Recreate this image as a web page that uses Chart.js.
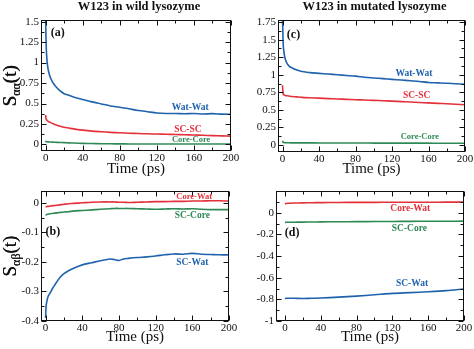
<!DOCTYPE html>
<html>
<head>
<meta charset="utf-8">
<script src="https://cdn.jsdelivr.net/npm/chart.js@4"></script>
<style>
  body { margin: 0; background: #fff; }
  #wrap { position: relative; width: 474px; height: 349px; }
  #wrap canvas { position: absolute; left: 0; top: 0; }
</style>
</head>
<body>
<div id="wrap">
  <canvas id="pa" width="474" height="349"></canvas>
  <canvas id="pb" width="474" height="349"></canvas>
  <canvas id="pc" width="474" height="349"></canvas>
  <canvas id="pd" width="474" height="349"></canvas>
</div>
<script>
// time grids (ps)
const timeTop = [0, 0.5, 1, 2, 3, 5, 7.5, 10, 15, 20, 25, 30, 40, 50, 60, 70, 80, 90, 100, 110, 120, 130, 140, 150, 160, 170, 180, 190, 200];
const timeB = [0, 0.5, 1, 2, 3, 5, 7.5, 10, 15, 20, 25, 30, 40, 50, 60, 70, 75, 80, 85, 90, 100, 110, 120, 130, 140, 150, 160, 170, 180, 190, 200];
const timeD = [0, 1, 5, 10, 20, 30, 40, 60, 80, 100, 120, 140, 160, 180, 200];

// (a) wild, S_aa
const watWatA = [1.52, 1.25, 1.1, 0.97, 0.9, 0.82, 0.76, 0.72, 0.66, 0.62, 0.6, 0.58, 0.55, 0.52, 0.495, 0.47, 0.455, 0.435, 0.415, 0.4, 0.385, 0.378, 0.378, 0.375, 0.378, 0.372, 0.376, 0.37, 0.368];
const scScA = [0.36, 0.31, 0.3, 0.29, 0.28, 0.27, 0.255, 0.245, 0.225, 0.21, 0.2, 0.19, 0.175, 0.163, 0.155, 0.148, 0.142, 0.137, 0.133, 0.13, 0.127, 0.124, 0.121, 0.118, 0.115, 0.112, 0.108, 0.105, 0.102];
const coreCoreA = [0.045, 0.035, 0.033, 0.032, 0.031, 0.03, 0.028, 0.027, 0.024, 0.022, 0.019, 0.017, 0.013, 0.011, 0.009, 0.008, 0.007, 0.006, 0.006, 0.005, 0.005, 0.005, 0.005, 0.005, 0.005, 0.005, 0.005, 0.005, 0.005];

// (c) mutated, S_aa
const watWatC = [1.8, 1.5, 1.38, 1.28, 1.22, 1.16, 1.12, 1.1, 1.07, 1.05, 1.04, 1.03, 1.02, 1.01, 1.0, 0.99, 0.98, 0.965, 0.955, 0.945, 0.935, 0.925, 0.915, 0.905, 0.89, 0.885, 0.88, 0.872, 0.865];
const scScC = [0.85, 0.73, 0.72, 0.71, 0.705, 0.7, 0.695, 0.69, 0.685, 0.68, 0.675, 0.672, 0.667, 0.66, 0.655, 0.65, 0.645, 0.64, 0.635, 0.63, 0.625, 0.618, 0.612, 0.605, 0.6, 0.593, 0.587, 0.58, 0.572];
const coreCoreC = [0.06, 0.04, 0.035, 0.033, 0.032, 0.031, 0.031, 0.03, 0.03, 0.03, 0.03, 0.03, 0.029, 0.029, 0.029, 0.028, 0.028, 0.028, 0.027, 0.027, 0.027, 0.026, 0.026, 0.026, 0.026, 0.025, 0.025, 0.025, 0.025];

// (b) wild, S_ab
const coreWatB = [-0.013, -0.013, -0.013, -0.012, -0.012, -0.011, -0.01, -0.009, -0.007, -0.005, -0.003, -0.002, 0, 0.002, 0.003, 0.003, 0.003, 0.002, 0.002, 0.001, 0.002, 0.003, 0.004, 0.004, 0.005, 0.005, 0.006, 0.006, 0.007, 0.007, 0.006];
const scCoreB = [-0.042, -0.041, -0.04, -0.039, -0.038, -0.037, -0.036, -0.035, -0.033, -0.031, -0.03, -0.028, -0.026, -0.024, -0.022, -0.02, -0.019, -0.019, -0.019, -0.019, -0.02, -0.021, -0.022, -0.021, -0.02, -0.021, -0.02, -0.022, -0.023, -0.023, -0.023];
const scWatB = [-0.39, -0.35, -0.34, -0.325, -0.315, -0.305, -0.29, -0.278, -0.255, -0.24, -0.23, -0.222, -0.21, -0.203, -0.196, -0.19, -0.192, -0.195, -0.19, -0.188, -0.185, -0.183, -0.18, -0.176, -0.173, -0.174, -0.171, -0.174, -0.175, -0.176, -0.176];

// (d) mutated, S_ab
const coreWatD = [0.08, 0.085, 0.087, 0.089, 0.09, 0.092, 0.093, 0.094, 0.095, 0.095, 0.096, 0.096, 0.096, 0.097, 0.097];
const scCoreD = [-0.09, -0.089, -0.088, -0.088, -0.087, -0.086, -0.085, -0.084, -0.083, -0.082, -0.081, -0.08, -0.079, -0.079, -0.078];
const scWatD = [-0.795, -0.79, -0.79, -0.79, -0.792, -0.79, -0.788, -0.78, -0.77, -0.758, -0.745, -0.738, -0.73, -0.72, -0.705];

// tick labels
const xTicks = [0, 40, 80, 120, 160, 200];
const yTicksA = [0, 0.25, 0.5, 0.75, 1, 1.25, 1.5];
const yTicksC = [0, 0.25, 0.5, 0.75, 1, 1.25, 1.5, 1.75];
const yTicksB = [-0.4, -0.3, -0.2, -0.1, 0];
const yTicksD = [-1, -0.8, -0.6, -0.4, -0.2, 0];

const BLUE = '#1f63ad';
const RED = '#e3313b';
const GREEN = '#2e8a55';
const SERIF = '"Liberation Serif", "DejaVu Serif", serif';

function pts(times, vals) {
  return times.map((t, i) => ({ x: t, y: vals[i] }));
}

function line(times, vals, color) {
  return {
    data: pts(times, vals),
    borderColor: color,
    borderWidth: 1.6,
    pointRadius: 0,
    tension: 0.3,
    fill: false
  };
}

// frame, inward ticks, panel texts
const decor = {
  id: 'decor',
  afterDatasetsDraw(chart, args, opts) {
    const ctx = chart.ctx;
    const a = chart.chartArea;
    const xs = chart.scales.x, ys = chart.scales.y;
    ctx.save();
    ctx.strokeStyle = '#111';
    ctx.lineWidth = 1;
    const l = Math.round(a.left) + 0.5, r = Math.round(a.right) - 0.5;
    const t = Math.round(a.top) + 0.5, b = Math.round(a.bottom) - 0.5;
    ctx.strokeRect(l, t, r - l, b - t);
    ctx.beginPath();
    for (let v = 0; v <= 200; v += 20) {
      const px = Math.round(xs.getPixelForValue(v)) + 0.5;
      const len = v % 40 === 0 ? 5 : 3;
      ctx.moveTo(px, b); ctx.lineTo(px, b - len);
      ctx.moveTo(px, t); ctx.lineTo(px, t + len);
    }
    const yt = opts.yTicks;
    const step = yt[1] - yt[0];
    for (let i = 0; i < yt.length; i++) {
      const vals = [[yt[i], 5], [yt[i] + step / 2, 3]];
      vals.forEach(([v, len]) => {
        if (v > ys.max + 1e-9) return;
        const py = Math.round(ys.getPixelForValue(v)) + 0.5;
        ctx.moveTo(l, py); ctx.lineTo(l + len, py);
        ctx.moveTo(r, py); ctx.lineTo(r - len, py);
      });
    }
    ctx.stroke();

    // series labels
    ctx.textAlign = 'center';
    ctx.textBaseline = 'middle';
    opts.labels.forEach(lb => {
      ctx.font = 'bold ' + lb.size + 'px ' + SERIF;
      ctx.fillStyle = lb.color;
      ctx.fillText(lb.text, xs.getPixelForValue(lb.t), ys.getPixelForValue(lb.v));
    });

    // panel title
    if (opts.title) {
      ctx.font = 'bold 12.5px ' + SERIF;
      ctx.fillStyle = '#111';
      ctx.fillText(opts.title, (a.left + a.right) / 2 + 3, 7);
    }

    // y axis title S_xx(t)
    ctx.translate(16, (a.top + a.bottom) / 2);
    ctx.rotate(-Math.PI / 2);
    ctx.textAlign = 'left';
    ctx.textBaseline = 'alphabetic';
    ctx.fillStyle = '#111';
    ctx.font = '19px ' + SERIF;
    const wS = ctx.measureText('S').width;
    ctx.font = '12px ' + SERIF;
    const wSub = ctx.measureText(opts.sub).width;
    ctx.font = '19px ' + SERIF;
    const wT = ctx.measureText('(t)').width;
    let x0 = -(wS + wSub + wT) / 2;
    ctx.fillText('S', x0, 0);
    ctx.font = '12px ' + SERIF;
    ctx.fillText(opts.sub, x0 + wS, 4);
    ctx.font = '19px ' + SERIF;
    ctx.fillText('(t)', x0 + wS + wSub, 0);
    ctx.restore();
  }
};

function makePanel(id, p) {
  const YW = 34, XH = p.xh;
  return new Chart(document.getElementById(id), {
    type: 'line',
    data: { datasets: p.datasets },
    options: {
      responsive: false,
      animation: false,
      events: [],
      layout: {
        padding: { left: p.L - YW, right: 474 - p.R, top: p.T, bottom: 349 - p.B - XH }
      },
      plugins: {
        legend: { display: false },
        tooltip: { enabled: false },
        decor: { yTicks: p.yTicks, labels: p.labels, title: p.title, sub: p.sub }
      },
      scales: {
        x: {
          type: 'linear',
          min: p.xmin, max: 200,
          grid: { display: false, drawTicks: false },
          border: { display: false },
          afterBuildTicks: s => { s.ticks = xTicks.map(v => ({ value: v })); },
          afterFit: s => { s.height = XH; s.paddingLeft = 0; s.paddingRight = 0; },
          ticks: { autoSkip: false, maxRotation: 0, padding: 1, color: '#111', font: { family: SERIF, size: 11 }, callback: v => String(v) },
          title: { display: true, text: 'Time (ps)', color: '#111', font: { family: SERIF, size: 15 }, padding: { top: 0, bottom: p.tpad } }
        },
        y: {
          min: p.ymin, max: p.ymax,
          grid: { display: false, drawTicks: false },
          border: { display: false },
          afterBuildTicks: s => { s.ticks = p.yTicks.map(v => ({ value: v })); },
          afterFit: s => { s.width = YW; s.paddingTop = 0; s.paddingBottom = 0; },
          ticks: { autoSkip: false, padding: 2, color: '#111', font: { family: SERIF, size: 11 }, callback: v => String(v) }
        }
      }
    },
    plugins: [decor]
  });
}

makePanel('pa', {
  L: 41, R: 231, T: 20, B: 151, xh: 30, tpad: 3,
  xmin: -5, ymin: -0.08, ymax: 1.52, yTicks: yTicksA, sub: 'αα',
  title: 'W123 in wild lysozyme',
  datasets: [line(timeTop, watWatA, BLUE), line(timeTop, scScA, RED), line(timeTop, coreCoreA, GREEN)],
  labels: [
    { text: '(a)', t: 13, v: 1.36, color: '#111', size: 12 },
    { text: 'Wat-Wat', t: 156, v: 0.456, color: BLUE, size: 9.5 },
    { text: 'SC-SC', t: 153.5, v: 0.187, color: RED, size: 9.5 },
    { text: 'Core-Core', t: 157, v: 0.053, color: GREEN, size: 8.5 }
  ]
});

makePanel('pc', {
  L: 278, R: 465, T: 20, B: 152, xh: 30, tpad: 4,
  xmin: -5, ymin: -0.1, ymax: 1.78, yTicks: yTicksC, sub: 'αα',
  title: 'W123 in mutated lysozyme',
  datasets: [line(timeTop, watWatC, BLUE), line(timeTop, scScC, RED), line(timeTop, coreCoreC, GREEN)],
  labels: [
    { text: '(c)', t: 12, v: 1.565, color: '#111', size: 12 },
    { text: 'Wat-Wat', t: 144, v: 1.024, color: BLUE, size: 9.5 },
    { text: 'SC-SC', t: 147, v: 0.7, color: RED, size: 9.5 },
    { text: 'Core-Core', t: 150.5, v: 0.114, color: GREEN, size: 8.5 }
  ]
});

makePanel('pb', {
  L: 41, R: 229, T: 191, B: 321, xh: 26, tpad: 0.5,
  xmin: -5, ymin: -0.4, ymax: 0.04, yTicks: yTicksB, sub: 'αβ',
  datasets: [line(timeB, coreWatB, RED), line(timeB, scCoreB, GREEN), line(timeB, scWatB, BLUE)],
  labels: [
    { text: '(b)', t: 8, v: -0.098, color: '#111', size: 12 },
    { text: 'Core-Wat', t: 162, v: 0.02, color: RED, size: 8.5 },
    { text: 'SC-Core', t: 160, v: -0.044, color: GREEN, size: 9.5 },
    { text: 'SC-Wat', t: 160, v: -0.203, color: BLUE, size: 9.5 }
  ]
});

makePanel('pd', {
  L: 276, R: 464, T: 191, B: 321, xh: 26, tpad: 0.5,
  xmin: -10, ymin: -1, ymax: 0.2, yTicks: yTicksD, sub: 'αβ',
  datasets: [line(timeD, coreWatD, RED), line(timeD, scCoreD, GREEN), line(timeD, scWatD, BLUE)],
  labels: [
    { text: '(d)', t: 8, v: -0.19, color: '#111', size: 12 },
    { text: 'Core-Wat', t: 140, v: 0.04, color: RED, size: 9.5 },
    { text: 'SC-Core', t: 139, v: -0.144, color: GREEN, size: 9.5 },
    { text: 'SC-Wat', t: 142, v: -0.65, color: BLUE, size: 9.5 }
  ]
});
</script>
</body>
</html>
